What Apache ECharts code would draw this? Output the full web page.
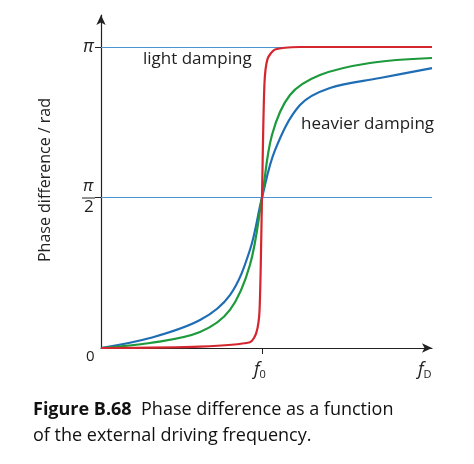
<!DOCTYPE html>
<html><head><meta charset="utf-8">
<script src="https://cdn.jsdelivr.net/npm/echarts@6/dist/echarts.min.js"></script>
<style>html,body{margin:0;padding:0;background:#fff}#c{width:474px;height:464px}</style>
</head><body><div id="c"></div>
<script>
const blueX=[0,.304,.615,.801,.925,1,1.081,1.236,1.422,1.733,2.056];
const blueY=[0,.104,.292,.553,1.023,1.571,2.066,2.536,2.714,2.818,2.922];
const greenX=[0,.304,.615,.801,.925,1,1.062,1.174,1.360,1.671,2.056];
const greenY=[0,.052,.167,.397,.866,1.571,2.223,2.641,2.849,2.975,3.027];
const redX=[0,.615,.925,.965,.985,1,1.015,1.035,1.081,1.236,2.056];
const redY=[0,.015,.06,.16,.4,1.571,2.75,3.02,3.115,3.142,3.142];
const yTicks=[Math.PI/2,Math.PI];
const zip=(a,b)=>a.map((v,i)=>[v,b[i]]);
const F='"Open Sans", sans-serif';
const chart=echarts.init(document.getElementById('c'));
const line=(x,y,c,z,s)=>({type:'line',data:zip(x,y),smooth:s,showSymbol:false,z:z,lineStyle:{color:c,width:2.2}});
chart.setOption({
  animation:false,
  grid:{left:101,top:15,right:42,bottom:116},
  xAxis:{type:'value',min:0,max:2.056,
    axisLine:{lineStyle:{color:'#222',width:1.2},symbol:['none','arrow'],symbolSize:[7,10]},
    axisTick:{show:true,customValues:[1],length:6,inside:false,lineStyle:{color:'#222'}},
    axisLabel:{show:false},splitLine:{show:false}},
  yAxis:{type:'value',min:0,max:3.476,
    axisLine:{lineStyle:{color:'#222',width:1.2},symbol:['none','arrow'],symbolSize:[7,10]},
    axisTick:{show:true,customValues:yTicks,length:6,lineStyle:{color:'#222'}},
    axisLabel:{show:false},splitLine:{show:false}},
  series:[
    Object.assign(line(blueX,blueY,'#1f6db4',3,0.35),{markLine:{silent:true,symbol:'none',label:{show:false},
      emphasis:{disabled:true},
      data:yTicks.map(v=>({yAxis:v,lineStyle:{color:'#4a94d4',width:1,type:'solid',opacity:1}}))}}),
    line(greenX,greenY,'#1c9a3c',4,0.35),
    line(redX,redY,'#d4262e',5,0.25)
  ],
  graphic:[
    {type:'text',left:83,top:38,style:{text:'π',font:'italic 18px '+F,fill:'#222'}},
    {type:'text',left:83,top:178,style:{text:'π',font:'italic 17px '+F,fill:'#222'}},
    {type:'line',shape:{x1:82,y1:198,x2:95,y2:198},style:{stroke:'#222',lineWidth:1}},
    {type:'text',left:84,top:199,style:{text:'2',font:'17px '+F,fill:'#222'}},
    {type:'text',left:86,top:349,style:{text:'0',font:'15px '+F,fill:'#222'}},
    {type:'text',left:254,top:361,style:{rich:{a:{font:'italic 18px '+F,fill:'#222'},b:{font:'11px '+F,fill:'#222',padding:[10,0,0,0]}},text:'{a|f}{b|0}'}},
    {type:'text',left:418,top:361,style:{rich:{a:{font:'italic 18px '+F,fill:'#222'},b:{font:'11px '+F,fill:'#222',padding:[10,0,0,0]}},text:'{a|f}{b|D}'}},
    {type:'text',left:143,top:51,style:{text:'light damping',font:'17px '+F,fill:'#222',backgroundColor:'#fff'}},
    {type:'text',left:301,top:116,style:{text:'heavier damping',font:'17px '+F,fill:'#222'}},
    {type:'text',x:45,y:180,rotation:Math.PI/2,style:{text:'Phase difference / rad',font:'16px '+F,fill:'#222',align:'center',verticalAlign:'middle'}},
    {type:'text',left:33,top:397,style:{rich:{b:{font:'bold 18px '+F,fill:'#111'},n:{font:'18px '+F,fill:'#111'}},text:'{b|Figure B.68}{n|  Phase difference as a function}\n{n|of the external driving frequency.}',lineHeight:26}}
  ]
});
</script></body></html>
